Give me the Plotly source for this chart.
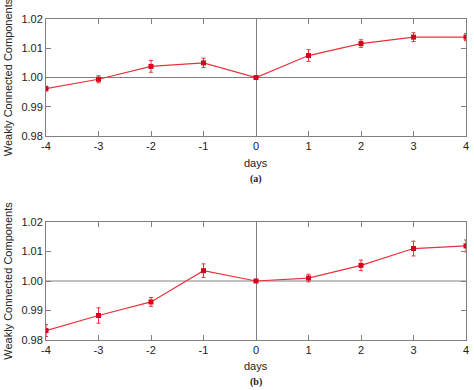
import plotly.graph_objects as go

days = [-4, -3, -2, -1, 0, 1, 2, 3, 4]
wcc_a = [0.9962, 0.9994, 1.0038, 1.0050, 1.0000, 1.0075, 1.0116, 1.0138, 1.0138]
err_a = [0.0008, 0.0012, 0.0020, 0.0016, 0.0, 0.0020, 0.0013, 0.0015, 0.0012]
wcc_b = [0.9832, 0.9883, 0.9929, 1.0035, 1.0000, 1.0010, 1.0053, 1.0110, 1.0119]
err_b = [0.0020, 0.0026, 0.0015, 0.0023, 0.0, 0.0013, 0.0018, 0.0025, 0.0020]
y_ticks = [0.98, 0.99, 1.00, 1.01, 1.02]
y_ticklabels = ["0.98", "0.99", "1.00", "1.01", "1.02"]

W, H = 474, 390
line_col = "#e8323c"
mark_col = "#d8001c"
axis_col = "#808080"
font = dict(family="Liberation Sans, Arial, sans-serif", size=11, color="#222222")

fig = go.Figure()
for i, (vals, errs) in enumerate([(wcc_a, err_a), (wcc_b, err_b)]):
    sfx = "" if i == 0 else "2"
    fig.add_trace(go.Scatter(
        x=days, y=vals, mode="lines+markers",
        xaxis="x" + sfx, yaxis="y" + sfx,
        line=dict(color=line_col, width=1.2),
        marker=dict(symbol="square", size=5, color=mark_col),
        error_y=dict(type="data", array=errs, visible=True, color=line_col, thickness=1, width=2),
        showlegend=False,
    ))

x_dom = [46 / W, 466 / W]
doms = [[1 - 136 / H, 1 - 19 / H], [1 - 340 / H, 1 - 222 / H]]

def xax(anchor, dom):
    return dict(domain=dom, anchor=anchor, range=[-4, 4], tickvals=days,
                ticktext=[str(d) for d in days], ticks="inside", ticklen=5,
                tickcolor=axis_col, showline=True, linecolor=axis_col, linewidth=1,
                mirror="ticks", showgrid=False, zeroline=True, zerolinecolor=axis_col,
                zerolinewidth=1, tickfont=font, fixedrange=True)

def yax(anchor, dom):
    return dict(domain=dom, anchor=anchor, range=[0.98, 1.02], tickvals=y_ticks,
                ticktext=y_ticklabels, ticks="inside", ticklen=5, tickcolor=axis_col,
                showline=True, linecolor=axis_col, linewidth=1, mirror="ticks",
                showgrid=False, zeroline=False, tickfont=font,
                title=dict(text="Weakly Connected Components", font=font, standoff=6))

sub_font = dict(family="Liberation Serif, Times New Roman, serif", size=10, color="#222222")

def label(text, xref, ypix, f):
    return dict(text=text, x=0, xref=xref, y=1 - ypix / H, yref="paper",
                xanchor="center", yanchor="middle", showarrow=False, font=f)

fig.update_layout(
    width=W, height=H,
    margin=dict(l=0, r=0, t=0, b=0, autoexpand=False),
    paper_bgcolor="white", plot_bgcolor="white",
    font=font,
    xaxis=xax("y", x_dom), yaxis=yax("x", doms[0]),
    xaxis2=xax("y2", x_dom), yaxis2=yax("x2", doms[1]),
    shapes=[
        dict(type="line", xref="x domain", yref="y", x0=0, x1=1, y0=1.0, y1=1.0,
             line=dict(color=axis_col, width=1), layer="below"),
        dict(type="line", xref="x2 domain", yref="y2", x0=0, x1=1, y0=1.0, y1=1.0,
             line=dict(color=axis_col, width=1), layer="below"),
    ],
    annotations=[
        label("days", "x", 163, font),
        label("<b>(a)</b>", "x", 179, sub_font),
        label("days", "x2", 366, font),
        label("<b>(b)</b>", "x2", 382, sub_font),
    ],
)

fig.write_html("out.html", config={"displayModeBar": False},
               post_script="document.body.style.margin='0';")
